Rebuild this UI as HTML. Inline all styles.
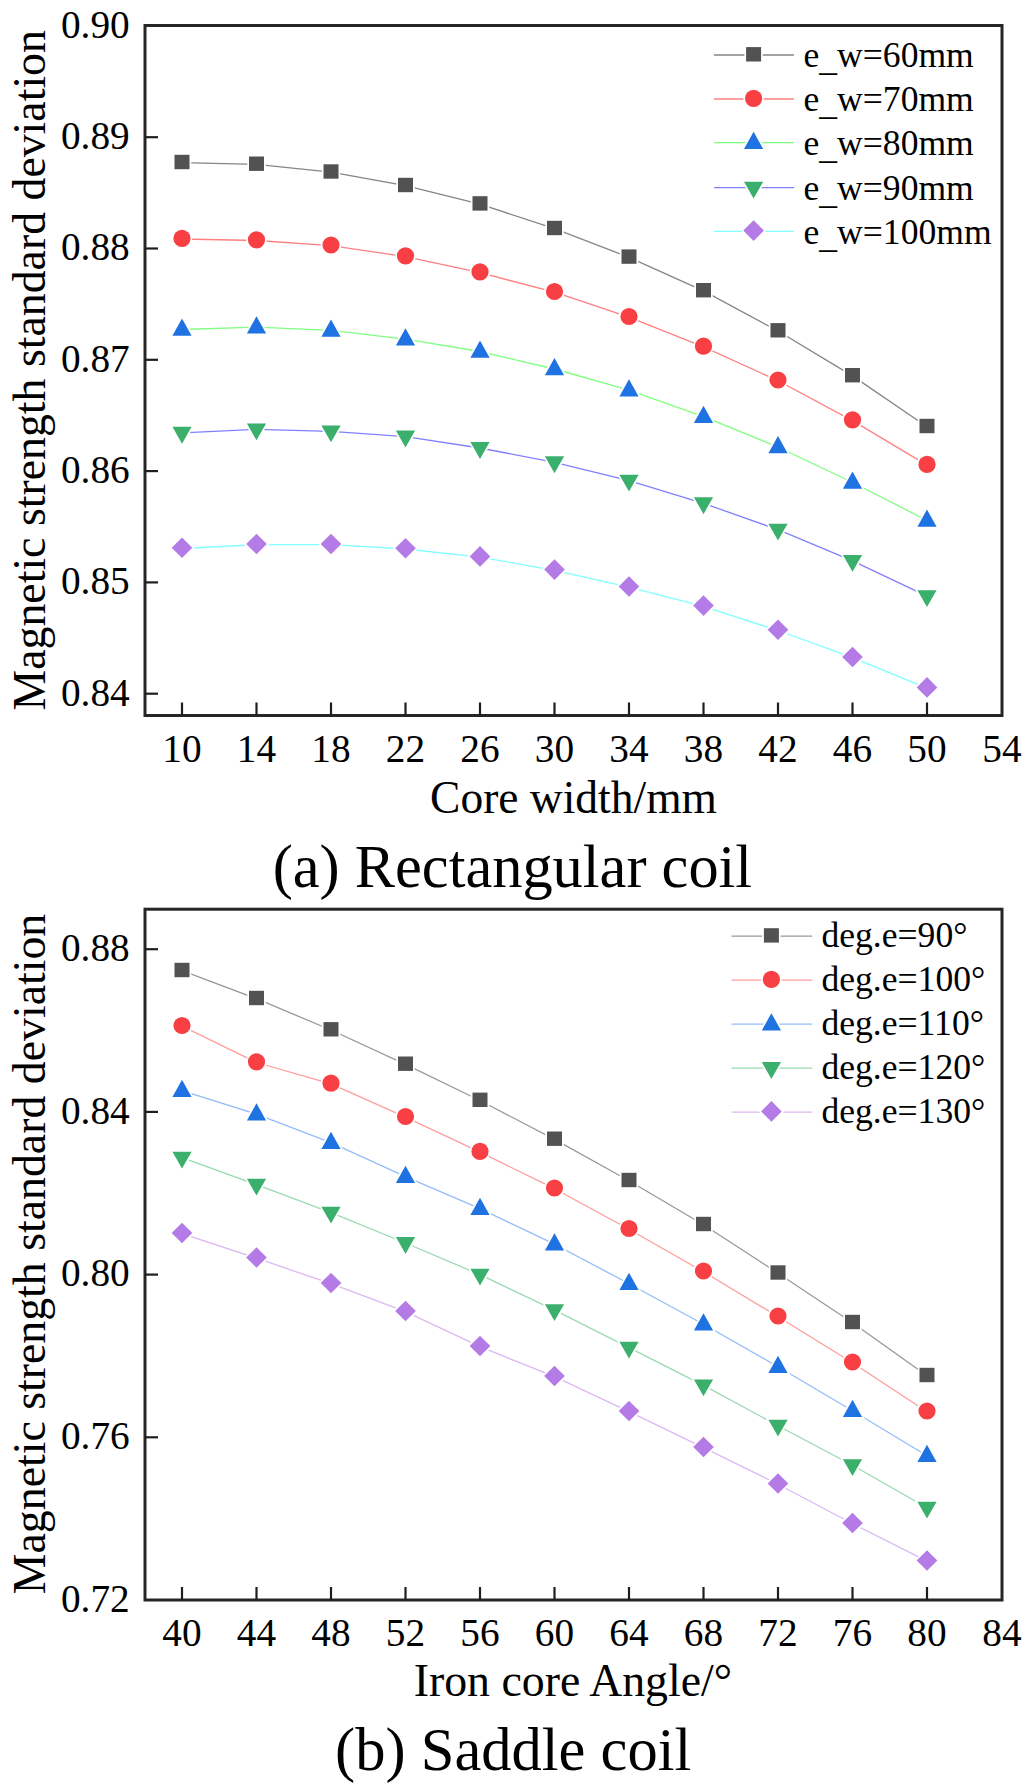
<!DOCTYPE html>
<html><head><meta charset="utf-8"><style>
html,body{margin:0;padding:0;background:#fff;}
svg{display:block;}
text{font-family:"Liberation Serif", serif;fill:#000;}
</style></head><body>
<svg width="1025" height="1784" viewBox="0 0 1025 1784">
<rect width="1025" height="1784" fill="#fff"/>
<rect x="145" y="25.5" width="857" height="690.0" fill="none" stroke="#262626" stroke-width="3"/>
<line x1="145" y1="137.2" x2="158" y2="137.2" stroke="#1e1e1e" stroke-width="2.2"/>
<line x1="145" y1="248.5" x2="158" y2="248.5" stroke="#1e1e1e" stroke-width="2.2"/>
<line x1="145" y1="359.8" x2="158" y2="359.8" stroke="#1e1e1e" stroke-width="2.2"/>
<line x1="145" y1="471.1" x2="158" y2="471.1" stroke="#1e1e1e" stroke-width="2.2"/>
<line x1="145" y1="582.4" x2="158" y2="582.4" stroke="#1e1e1e" stroke-width="2.2"/>
<line x1="145" y1="693.7" x2="158" y2="693.7" stroke="#1e1e1e" stroke-width="2.2"/>
<line x1="182.0" y1="715.5" x2="182.0" y2="702.5" stroke="#1e1e1e" stroke-width="2.2"/>
<line x1="256.5" y1="715.5" x2="256.5" y2="702.5" stroke="#1e1e1e" stroke-width="2.2"/>
<line x1="331.0" y1="715.5" x2="331.0" y2="702.5" stroke="#1e1e1e" stroke-width="2.2"/>
<line x1="405.5" y1="715.5" x2="405.5" y2="702.5" stroke="#1e1e1e" stroke-width="2.2"/>
<line x1="480.0" y1="715.5" x2="480.0" y2="702.5" stroke="#1e1e1e" stroke-width="2.2"/>
<line x1="554.5" y1="715.5" x2="554.5" y2="702.5" stroke="#1e1e1e" stroke-width="2.2"/>
<line x1="629.0" y1="715.5" x2="629.0" y2="702.5" stroke="#1e1e1e" stroke-width="2.2"/>
<line x1="703.5" y1="715.5" x2="703.5" y2="702.5" stroke="#1e1e1e" stroke-width="2.2"/>
<line x1="778.0" y1="715.5" x2="778.0" y2="702.5" stroke="#1e1e1e" stroke-width="2.2"/>
<line x1="852.5" y1="715.5" x2="852.5" y2="702.5" stroke="#1e1e1e" stroke-width="2.2"/>
<line x1="927.0" y1="715.5" x2="927.0" y2="702.5" stroke="#1e1e1e" stroke-width="2.2"/>
<polyline points="182.00,162.70 256.50,164.40 331.00,172.20 405.50,185.70 480.00,204.10 554.50,228.70 629.00,257.30 703.50,290.90 778.00,331.00 852.50,375.90 927.00,426.70" fill="none" stroke="#858585" stroke-width="1.3" stroke-linejoin="round"/>
<polyline points="182.00,239.00 256.50,240.50 331.00,245.70 405.50,256.60 480.00,272.60 554.50,292.20 629.00,317.20 703.50,346.90 778.00,380.70 852.50,420.60 927.00,465.10" fill="none" stroke="#ff8080" stroke-width="1.3" stroke-linejoin="round"/>
<polyline points="182.00,329.50 256.50,327.20 331.00,330.40 405.50,339.20 480.00,351.50 554.50,369.00 629.00,390.10 703.50,416.70 778.00,447.00 852.50,482.50 927.00,520.50" fill="none" stroke="#80ff80" stroke-width="1.3" stroke-linejoin="round"/>
<polyline points="182.00,432.80 256.50,429.40 331.00,431.40 405.50,436.60 480.00,448.00 554.50,462.30 629.00,480.70 703.50,503.30 778.00,529.70 852.50,560.90 927.00,596.20" fill="none" stroke="#8080ff" stroke-width="1.3" stroke-linejoin="round"/>
<polyline points="182.00,548.50 256.50,544.70 331.00,544.70 405.50,549.00 480.00,557.10 554.50,570.30 629.00,587.20 703.50,606.30 778.00,630.50 852.50,657.70 927.00,688.10" fill="none" stroke="#80ffff" stroke-width="1.3" stroke-linejoin="round"/>
<rect x="174.50" y="154.80" width="15.00" height="14.40" fill="#525252" stroke="#fff" stroke-width="3.4" paint-order="stroke"/>
<rect x="249.00" y="156.50" width="15.00" height="14.40" fill="#525252" stroke="#fff" stroke-width="3.4" paint-order="stroke"/>
<rect x="323.50" y="164.30" width="15.00" height="14.40" fill="#525252" stroke="#fff" stroke-width="3.4" paint-order="stroke"/>
<rect x="398.00" y="177.80" width="15.00" height="14.40" fill="#525252" stroke="#fff" stroke-width="3.4" paint-order="stroke"/>
<rect x="472.50" y="196.20" width="15.00" height="14.40" fill="#525252" stroke="#fff" stroke-width="3.4" paint-order="stroke"/>
<rect x="547.00" y="220.80" width="15.00" height="14.40" fill="#525252" stroke="#fff" stroke-width="3.4" paint-order="stroke"/>
<rect x="621.50" y="249.40" width="15.00" height="14.40" fill="#525252" stroke="#fff" stroke-width="3.4" paint-order="stroke"/>
<rect x="696.00" y="283.00" width="15.00" height="14.40" fill="#525252" stroke="#fff" stroke-width="3.4" paint-order="stroke"/>
<rect x="770.50" y="323.10" width="15.00" height="14.40" fill="#525252" stroke="#fff" stroke-width="3.4" paint-order="stroke"/>
<rect x="845.00" y="368.00" width="15.00" height="14.40" fill="#525252" stroke="#fff" stroke-width="3.4" paint-order="stroke"/>
<rect x="919.50" y="418.80" width="15.00" height="14.40" fill="#525252" stroke="#fff" stroke-width="3.4" paint-order="stroke"/>
<circle cx="182.00" cy="238.30" r="8.60" fill="#f84044" stroke="#fff" stroke-width="3.4" paint-order="stroke"/>
<circle cx="256.50" cy="239.80" r="8.60" fill="#f84044" stroke="#fff" stroke-width="3.4" paint-order="stroke"/>
<circle cx="331.00" cy="245.00" r="8.60" fill="#f84044" stroke="#fff" stroke-width="3.4" paint-order="stroke"/>
<circle cx="405.50" cy="255.90" r="8.60" fill="#f84044" stroke="#fff" stroke-width="3.4" paint-order="stroke"/>
<circle cx="480.00" cy="271.90" r="8.60" fill="#f84044" stroke="#fff" stroke-width="3.4" paint-order="stroke"/>
<circle cx="554.50" cy="291.50" r="8.60" fill="#f84044" stroke="#fff" stroke-width="3.4" paint-order="stroke"/>
<circle cx="629.00" cy="316.50" r="8.60" fill="#f84044" stroke="#fff" stroke-width="3.4" paint-order="stroke"/>
<circle cx="703.50" cy="346.20" r="8.60" fill="#f84044" stroke="#fff" stroke-width="3.4" paint-order="stroke"/>
<circle cx="778.00" cy="380.00" r="8.60" fill="#f84044" stroke="#fff" stroke-width="3.4" paint-order="stroke"/>
<circle cx="852.50" cy="419.90" r="8.60" fill="#f84044" stroke="#fff" stroke-width="3.4" paint-order="stroke"/>
<circle cx="927.00" cy="464.40" r="8.60" fill="#f84044" stroke="#fff" stroke-width="3.4" paint-order="stroke"/>
<path d="M182.00 318.60L191.60 335.80L172.40 335.80Z" fill="#1e72e2" stroke="#fff" stroke-width="3.4" paint-order="stroke"/>
<path d="M256.50 316.30L266.10 333.50L246.90 333.50Z" fill="#1e72e2" stroke="#fff" stroke-width="3.4" paint-order="stroke"/>
<path d="M331.00 319.50L340.60 336.70L321.40 336.70Z" fill="#1e72e2" stroke="#fff" stroke-width="3.4" paint-order="stroke"/>
<path d="M405.50 328.30L415.10 345.50L395.90 345.50Z" fill="#1e72e2" stroke="#fff" stroke-width="3.4" paint-order="stroke"/>
<path d="M480.00 340.60L489.60 357.80L470.40 357.80Z" fill="#1e72e2" stroke="#fff" stroke-width="3.4" paint-order="stroke"/>
<path d="M554.50 358.10L564.10 375.30L544.90 375.30Z" fill="#1e72e2" stroke="#fff" stroke-width="3.4" paint-order="stroke"/>
<path d="M629.00 379.20L638.60 396.40L619.40 396.40Z" fill="#1e72e2" stroke="#fff" stroke-width="3.4" paint-order="stroke"/>
<path d="M703.50 405.80L713.10 423.00L693.90 423.00Z" fill="#1e72e2" stroke="#fff" stroke-width="3.4" paint-order="stroke"/>
<path d="M778.00 436.10L787.60 453.30L768.40 453.30Z" fill="#1e72e2" stroke="#fff" stroke-width="3.4" paint-order="stroke"/>
<path d="M852.50 471.60L862.10 488.80L842.90 488.80Z" fill="#1e72e2" stroke="#fff" stroke-width="3.4" paint-order="stroke"/>
<path d="M927.00 509.60L936.60 526.80L917.40 526.80Z" fill="#1e72e2" stroke="#fff" stroke-width="3.4" paint-order="stroke"/>
<path d="M182.00 443.70L191.60 426.80L172.40 426.80Z" fill="#3ab06c" stroke="#fff" stroke-width="3.4" paint-order="stroke"/>
<path d="M256.50 440.30L266.10 423.40L246.90 423.40Z" fill="#3ab06c" stroke="#fff" stroke-width="3.4" paint-order="stroke"/>
<path d="M331.00 442.30L340.60 425.40L321.40 425.40Z" fill="#3ab06c" stroke="#fff" stroke-width="3.4" paint-order="stroke"/>
<path d="M405.50 447.50L415.10 430.60L395.90 430.60Z" fill="#3ab06c" stroke="#fff" stroke-width="3.4" paint-order="stroke"/>
<path d="M480.00 458.90L489.60 442.00L470.40 442.00Z" fill="#3ab06c" stroke="#fff" stroke-width="3.4" paint-order="stroke"/>
<path d="M554.50 473.20L564.10 456.30L544.90 456.30Z" fill="#3ab06c" stroke="#fff" stroke-width="3.4" paint-order="stroke"/>
<path d="M629.00 491.60L638.60 474.70L619.40 474.70Z" fill="#3ab06c" stroke="#fff" stroke-width="3.4" paint-order="stroke"/>
<path d="M703.50 514.20L713.10 497.30L693.90 497.30Z" fill="#3ab06c" stroke="#fff" stroke-width="3.4" paint-order="stroke"/>
<path d="M778.00 540.60L787.60 523.70L768.40 523.70Z" fill="#3ab06c" stroke="#fff" stroke-width="3.4" paint-order="stroke"/>
<path d="M852.50 571.80L862.10 554.90L842.90 554.90Z" fill="#3ab06c" stroke="#fff" stroke-width="3.4" paint-order="stroke"/>
<path d="M927.00 607.10L936.60 590.20L917.40 590.20Z" fill="#3ab06c" stroke="#fff" stroke-width="3.4" paint-order="stroke"/>
<path d="M182.00 537.50L192.30 547.80L182.00 558.10L171.70 547.80Z" fill="#b47ae6" stroke="#fff" stroke-width="3.4" paint-order="stroke"/>
<path d="M256.50 533.70L266.80 544.00L256.50 554.30L246.20 544.00Z" fill="#b47ae6" stroke="#fff" stroke-width="3.4" paint-order="stroke"/>
<path d="M331.00 533.70L341.30 544.00L331.00 554.30L320.70 544.00Z" fill="#b47ae6" stroke="#fff" stroke-width="3.4" paint-order="stroke"/>
<path d="M405.50 538.00L415.80 548.30L405.50 558.60L395.20 548.30Z" fill="#b47ae6" stroke="#fff" stroke-width="3.4" paint-order="stroke"/>
<path d="M480.00 546.10L490.30 556.40L480.00 566.70L469.70 556.40Z" fill="#b47ae6" stroke="#fff" stroke-width="3.4" paint-order="stroke"/>
<path d="M554.50 559.30L564.80 569.60L554.50 579.90L544.20 569.60Z" fill="#b47ae6" stroke="#fff" stroke-width="3.4" paint-order="stroke"/>
<path d="M629.00 576.20L639.30 586.50L629.00 596.80L618.70 586.50Z" fill="#b47ae6" stroke="#fff" stroke-width="3.4" paint-order="stroke"/>
<path d="M703.50 595.30L713.80 605.60L703.50 615.90L693.20 605.60Z" fill="#b47ae6" stroke="#fff" stroke-width="3.4" paint-order="stroke"/>
<path d="M778.00 619.50L788.30 629.80L778.00 640.10L767.70 629.80Z" fill="#b47ae6" stroke="#fff" stroke-width="3.4" paint-order="stroke"/>
<path d="M852.50 646.70L862.80 657.00L852.50 667.30L842.20 657.00Z" fill="#b47ae6" stroke="#fff" stroke-width="3.4" paint-order="stroke"/>
<path d="M927.00 677.10L937.30 687.40L927.00 697.70L916.70 687.40Z" fill="#b47ae6" stroke="#fff" stroke-width="3.4" paint-order="stroke"/>
<line x1="714" y1="55.0" x2="794" y2="55.0" stroke="#858585" stroke-width="1.3"/>
<rect x="746.10" y="47.10" width="15.00" height="14.40" fill="#525252" stroke="#fff" stroke-width="3.4" paint-order="stroke"/>
<line x1="714" y1="99.0" x2="794" y2="99.0" stroke="#ff8080" stroke-width="1.3"/>
<circle cx="753.60" cy="98.30" r="8.60" fill="#f84044" stroke="#fff" stroke-width="3.4" paint-order="stroke"/>
<line x1="714" y1="142.7" x2="794" y2="142.7" stroke="#80ff80" stroke-width="1.3"/>
<path d="M753.60 131.80L763.20 149.00L744.00 149.00Z" fill="#1e72e2" stroke="#fff" stroke-width="3.4" paint-order="stroke"/>
<line x1="714" y1="187.7" x2="794" y2="187.7" stroke="#8080ff" stroke-width="1.3"/>
<path d="M753.60 198.60L763.20 181.70L744.00 181.70Z" fill="#3ab06c" stroke="#fff" stroke-width="3.4" paint-order="stroke"/>
<line x1="714" y1="231.29999999999998" x2="794" y2="231.29999999999998" stroke="#80ffff" stroke-width="1.3"/>
<path d="M753.60 220.30L763.90 230.60L753.60 240.90L743.30 230.60Z" fill="#b47ae6" stroke="#fff" stroke-width="3.4" paint-order="stroke"/>
<rect x="145" y="909.2" width="857" height="690.8" fill="none" stroke="#262626" stroke-width="3"/>
<line x1="145" y1="949.2" x2="158" y2="949.2" stroke="#1e1e1e" stroke-width="2.2"/>
<line x1="145" y1="1111.9" x2="158" y2="1111.9" stroke="#1e1e1e" stroke-width="2.2"/>
<line x1="145" y1="1274.6" x2="158" y2="1274.6" stroke="#1e1e1e" stroke-width="2.2"/>
<line x1="145" y1="1437.3" x2="158" y2="1437.3" stroke="#1e1e1e" stroke-width="2.2"/>
<line x1="182.0" y1="1600" x2="182.0" y2="1587" stroke="#1e1e1e" stroke-width="2.2"/>
<line x1="256.5" y1="1600" x2="256.5" y2="1587" stroke="#1e1e1e" stroke-width="2.2"/>
<line x1="331.0" y1="1600" x2="331.0" y2="1587" stroke="#1e1e1e" stroke-width="2.2"/>
<line x1="405.5" y1="1600" x2="405.5" y2="1587" stroke="#1e1e1e" stroke-width="2.2"/>
<line x1="480.0" y1="1600" x2="480.0" y2="1587" stroke="#1e1e1e" stroke-width="2.2"/>
<line x1="554.5" y1="1600" x2="554.5" y2="1587" stroke="#1e1e1e" stroke-width="2.2"/>
<line x1="629.0" y1="1600" x2="629.0" y2="1587" stroke="#1e1e1e" stroke-width="2.2"/>
<line x1="703.5" y1="1600" x2="703.5" y2="1587" stroke="#1e1e1e" stroke-width="2.2"/>
<line x1="778.0" y1="1600" x2="778.0" y2="1587" stroke="#1e1e1e" stroke-width="2.2"/>
<line x1="852.5" y1="1600" x2="852.5" y2="1587" stroke="#1e1e1e" stroke-width="2.2"/>
<line x1="927.0" y1="1600" x2="927.0" y2="1587" stroke="#1e1e1e" stroke-width="2.2"/>
<polyline points="182.00,970.70 256.50,998.70 331.00,1030.00 405.50,1064.40 480.00,1100.50 554.50,1139.40 629.00,1180.70 703.50,1224.70 778.00,1273.20 852.50,1322.70 927.00,1375.70" fill="none" stroke="#999999" stroke-width="1.3" stroke-linejoin="round"/>
<polyline points="182.00,1026.20 256.50,1062.50 331.00,1083.90 405.50,1117.20 480.00,1152.10 554.50,1188.70 629.00,1229.20 703.50,1271.70 778.00,1316.70 852.50,1362.70 927.00,1411.70" fill="none" stroke="#ff9c9c" stroke-width="1.3" stroke-linejoin="round"/>
<polyline points="182.00,1090.70 256.50,1114.20 331.00,1142.70 405.50,1176.70 480.00,1208.70 554.50,1244.20 629.00,1283.70 703.50,1324.20 778.00,1366.70 852.50,1410.70 927.00,1455.70" fill="none" stroke="#94bcf8" stroke-width="1.3" stroke-linejoin="round"/>
<polyline points="182.00,1157.70 256.50,1184.70 331.00,1212.70 405.50,1243.00 480.00,1274.70 554.50,1310.20 629.00,1347.70 703.50,1385.40 778.00,1425.70 852.50,1465.20 927.00,1507.70" fill="none" stroke="#98dab0" stroke-width="1.3" stroke-linejoin="round"/>
<polyline points="182.00,1233.70 256.50,1258.20 331.00,1283.70 405.50,1311.70 480.00,1346.70 554.50,1376.70 629.00,1411.70 703.50,1447.70 778.00,1484.20 852.50,1523.70 927.00,1561.20" fill="none" stroke="#dcb8f3" stroke-width="1.3" stroke-linejoin="round"/>
<rect x="174.50" y="962.80" width="15.00" height="14.40" fill="#525252" stroke="#fff" stroke-width="3.4" paint-order="stroke"/>
<rect x="249.00" y="990.80" width="15.00" height="14.40" fill="#525252" stroke="#fff" stroke-width="3.4" paint-order="stroke"/>
<rect x="323.50" y="1022.10" width="15.00" height="14.40" fill="#525252" stroke="#fff" stroke-width="3.4" paint-order="stroke"/>
<rect x="398.00" y="1056.50" width="15.00" height="14.40" fill="#525252" stroke="#fff" stroke-width="3.4" paint-order="stroke"/>
<rect x="472.50" y="1092.60" width="15.00" height="14.40" fill="#525252" stroke="#fff" stroke-width="3.4" paint-order="stroke"/>
<rect x="547.00" y="1131.50" width="15.00" height="14.40" fill="#525252" stroke="#fff" stroke-width="3.4" paint-order="stroke"/>
<rect x="621.50" y="1172.80" width="15.00" height="14.40" fill="#525252" stroke="#fff" stroke-width="3.4" paint-order="stroke"/>
<rect x="696.00" y="1216.80" width="15.00" height="14.40" fill="#525252" stroke="#fff" stroke-width="3.4" paint-order="stroke"/>
<rect x="770.50" y="1265.30" width="15.00" height="14.40" fill="#525252" stroke="#fff" stroke-width="3.4" paint-order="stroke"/>
<rect x="845.00" y="1314.80" width="15.00" height="14.40" fill="#525252" stroke="#fff" stroke-width="3.4" paint-order="stroke"/>
<rect x="919.50" y="1367.80" width="15.00" height="14.40" fill="#525252" stroke="#fff" stroke-width="3.4" paint-order="stroke"/>
<circle cx="182.00" cy="1025.50" r="8.60" fill="#f84044" stroke="#fff" stroke-width="3.4" paint-order="stroke"/>
<circle cx="256.50" cy="1061.80" r="8.60" fill="#f84044" stroke="#fff" stroke-width="3.4" paint-order="stroke"/>
<circle cx="331.00" cy="1083.20" r="8.60" fill="#f84044" stroke="#fff" stroke-width="3.4" paint-order="stroke"/>
<circle cx="405.50" cy="1116.50" r="8.60" fill="#f84044" stroke="#fff" stroke-width="3.4" paint-order="stroke"/>
<circle cx="480.00" cy="1151.40" r="8.60" fill="#f84044" stroke="#fff" stroke-width="3.4" paint-order="stroke"/>
<circle cx="554.50" cy="1188.00" r="8.60" fill="#f84044" stroke="#fff" stroke-width="3.4" paint-order="stroke"/>
<circle cx="629.00" cy="1228.50" r="8.60" fill="#f84044" stroke="#fff" stroke-width="3.4" paint-order="stroke"/>
<circle cx="703.50" cy="1271.00" r="8.60" fill="#f84044" stroke="#fff" stroke-width="3.4" paint-order="stroke"/>
<circle cx="778.00" cy="1316.00" r="8.60" fill="#f84044" stroke="#fff" stroke-width="3.4" paint-order="stroke"/>
<circle cx="852.50" cy="1362.00" r="8.60" fill="#f84044" stroke="#fff" stroke-width="3.4" paint-order="stroke"/>
<circle cx="927.00" cy="1411.00" r="8.60" fill="#f84044" stroke="#fff" stroke-width="3.4" paint-order="stroke"/>
<path d="M182.00 1079.80L191.60 1097.00L172.40 1097.00Z" fill="#1e72e2" stroke="#fff" stroke-width="3.4" paint-order="stroke"/>
<path d="M256.50 1103.30L266.10 1120.50L246.90 1120.50Z" fill="#1e72e2" stroke="#fff" stroke-width="3.4" paint-order="stroke"/>
<path d="M331.00 1131.80L340.60 1149.00L321.40 1149.00Z" fill="#1e72e2" stroke="#fff" stroke-width="3.4" paint-order="stroke"/>
<path d="M405.50 1165.80L415.10 1183.00L395.90 1183.00Z" fill="#1e72e2" stroke="#fff" stroke-width="3.4" paint-order="stroke"/>
<path d="M480.00 1197.80L489.60 1215.00L470.40 1215.00Z" fill="#1e72e2" stroke="#fff" stroke-width="3.4" paint-order="stroke"/>
<path d="M554.50 1233.30L564.10 1250.50L544.90 1250.50Z" fill="#1e72e2" stroke="#fff" stroke-width="3.4" paint-order="stroke"/>
<path d="M629.00 1272.80L638.60 1290.00L619.40 1290.00Z" fill="#1e72e2" stroke="#fff" stroke-width="3.4" paint-order="stroke"/>
<path d="M703.50 1313.30L713.10 1330.50L693.90 1330.50Z" fill="#1e72e2" stroke="#fff" stroke-width="3.4" paint-order="stroke"/>
<path d="M778.00 1355.80L787.60 1373.00L768.40 1373.00Z" fill="#1e72e2" stroke="#fff" stroke-width="3.4" paint-order="stroke"/>
<path d="M852.50 1399.80L862.10 1417.00L842.90 1417.00Z" fill="#1e72e2" stroke="#fff" stroke-width="3.4" paint-order="stroke"/>
<path d="M927.00 1444.80L936.60 1462.00L917.40 1462.00Z" fill="#1e72e2" stroke="#fff" stroke-width="3.4" paint-order="stroke"/>
<path d="M182.00 1168.60L191.60 1151.70L172.40 1151.70Z" fill="#3ab06c" stroke="#fff" stroke-width="3.4" paint-order="stroke"/>
<path d="M256.50 1195.60L266.10 1178.70L246.90 1178.70Z" fill="#3ab06c" stroke="#fff" stroke-width="3.4" paint-order="stroke"/>
<path d="M331.00 1223.60L340.60 1206.70L321.40 1206.70Z" fill="#3ab06c" stroke="#fff" stroke-width="3.4" paint-order="stroke"/>
<path d="M405.50 1253.90L415.10 1237.00L395.90 1237.00Z" fill="#3ab06c" stroke="#fff" stroke-width="3.4" paint-order="stroke"/>
<path d="M480.00 1285.60L489.60 1268.70L470.40 1268.70Z" fill="#3ab06c" stroke="#fff" stroke-width="3.4" paint-order="stroke"/>
<path d="M554.50 1321.10L564.10 1304.20L544.90 1304.20Z" fill="#3ab06c" stroke="#fff" stroke-width="3.4" paint-order="stroke"/>
<path d="M629.00 1358.60L638.60 1341.70L619.40 1341.70Z" fill="#3ab06c" stroke="#fff" stroke-width="3.4" paint-order="stroke"/>
<path d="M703.50 1396.30L713.10 1379.40L693.90 1379.40Z" fill="#3ab06c" stroke="#fff" stroke-width="3.4" paint-order="stroke"/>
<path d="M778.00 1436.60L787.60 1419.70L768.40 1419.70Z" fill="#3ab06c" stroke="#fff" stroke-width="3.4" paint-order="stroke"/>
<path d="M852.50 1476.10L862.10 1459.20L842.90 1459.20Z" fill="#3ab06c" stroke="#fff" stroke-width="3.4" paint-order="stroke"/>
<path d="M927.00 1518.60L936.60 1501.70L917.40 1501.70Z" fill="#3ab06c" stroke="#fff" stroke-width="3.4" paint-order="stroke"/>
<path d="M182.00 1222.70L192.30 1233.00L182.00 1243.30L171.70 1233.00Z" fill="#b47ae6" stroke="#fff" stroke-width="3.4" paint-order="stroke"/>
<path d="M256.50 1247.20L266.80 1257.50L256.50 1267.80L246.20 1257.50Z" fill="#b47ae6" stroke="#fff" stroke-width="3.4" paint-order="stroke"/>
<path d="M331.00 1272.70L341.30 1283.00L331.00 1293.30L320.70 1283.00Z" fill="#b47ae6" stroke="#fff" stroke-width="3.4" paint-order="stroke"/>
<path d="M405.50 1300.70L415.80 1311.00L405.50 1321.30L395.20 1311.00Z" fill="#b47ae6" stroke="#fff" stroke-width="3.4" paint-order="stroke"/>
<path d="M480.00 1335.70L490.30 1346.00L480.00 1356.30L469.70 1346.00Z" fill="#b47ae6" stroke="#fff" stroke-width="3.4" paint-order="stroke"/>
<path d="M554.50 1365.70L564.80 1376.00L554.50 1386.30L544.20 1376.00Z" fill="#b47ae6" stroke="#fff" stroke-width="3.4" paint-order="stroke"/>
<path d="M629.00 1400.70L639.30 1411.00L629.00 1421.30L618.70 1411.00Z" fill="#b47ae6" stroke="#fff" stroke-width="3.4" paint-order="stroke"/>
<path d="M703.50 1436.70L713.80 1447.00L703.50 1457.30L693.20 1447.00Z" fill="#b47ae6" stroke="#fff" stroke-width="3.4" paint-order="stroke"/>
<path d="M778.00 1473.20L788.30 1483.50L778.00 1493.80L767.70 1483.50Z" fill="#b47ae6" stroke="#fff" stroke-width="3.4" paint-order="stroke"/>
<path d="M852.50 1512.70L862.80 1523.00L852.50 1533.30L842.20 1523.00Z" fill="#b47ae6" stroke="#fff" stroke-width="3.4" paint-order="stroke"/>
<path d="M927.00 1550.20L937.30 1560.50L927.00 1570.80L916.70 1560.50Z" fill="#b47ae6" stroke="#fff" stroke-width="3.4" paint-order="stroke"/>
<line x1="731.5" y1="936.1" x2="812.3" y2="936.1" stroke="#999999" stroke-width="1.3"/>
<rect x="763.90" y="928.20" width="15.00" height="14.40" fill="#525252" stroke="#fff" stroke-width="3.4" paint-order="stroke"/>
<line x1="731.5" y1="980.1" x2="812.3" y2="980.1" stroke="#ff9c9c" stroke-width="1.3"/>
<circle cx="771.40" cy="979.40" r="8.60" fill="#f84044" stroke="#fff" stroke-width="3.4" paint-order="stroke"/>
<line x1="731.5" y1="1024.1" x2="812.3" y2="1024.1" stroke="#94bcf8" stroke-width="1.3"/>
<path d="M771.40 1013.20L781.00 1030.40L761.80 1030.40Z" fill="#1e72e2" stroke="#fff" stroke-width="3.4" paint-order="stroke"/>
<line x1="731.5" y1="1068.1000000000001" x2="812.3" y2="1068.1000000000001" stroke="#98dab0" stroke-width="1.3"/>
<path d="M771.40 1079.00L781.00 1062.10L761.80 1062.10Z" fill="#3ab06c" stroke="#fff" stroke-width="3.4" paint-order="stroke"/>
<line x1="731.5" y1="1112.1000000000001" x2="812.3" y2="1112.1000000000001" stroke="#dcb8f3" stroke-width="1.3"/>
<path d="M771.40 1101.10L781.70 1111.40L771.40 1121.70L761.10 1111.40Z" fill="#b47ae6" stroke="#fff" stroke-width="3.4" paint-order="stroke"/>

<text x="129.70" y="37.70" font-size="39.3" text-anchor="end" >0.90</text>
<text x="129.70" y="149.00" font-size="39.3" text-anchor="end" >0.89</text>
<text x="129.70" y="260.30" font-size="39.3" text-anchor="end" >0.88</text>
<text x="129.70" y="371.60" font-size="39.3" text-anchor="end" >0.87</text>
<text x="129.70" y="482.90" font-size="39.3" text-anchor="end" >0.86</text>
<text x="129.70" y="594.20" font-size="39.3" text-anchor="end" >0.85</text>
<text x="129.70" y="705.50" font-size="39.3" text-anchor="end" >0.84</text>
<text x="182.00" y="761.50" font-size="39.3" text-anchor="middle" >10</text>
<text x="256.50" y="761.50" font-size="39.3" text-anchor="middle" >14</text>
<text x="331.00" y="761.50" font-size="39.3" text-anchor="middle" >18</text>
<text x="405.50" y="761.50" font-size="39.3" text-anchor="middle" >22</text>
<text x="480.00" y="761.50" font-size="39.3" text-anchor="middle" >26</text>
<text x="554.50" y="761.50" font-size="39.3" text-anchor="middle" >30</text>
<text x="629.00" y="761.50" font-size="39.3" text-anchor="middle" >34</text>
<text x="703.50" y="761.50" font-size="39.3" text-anchor="middle" >38</text>
<text x="778.00" y="761.50" font-size="39.3" text-anchor="middle" >42</text>
<text x="852.50" y="761.50" font-size="39.3" text-anchor="middle" >46</text>
<text x="927.00" y="761.50" font-size="39.3" text-anchor="middle" >50</text>
<text x="1002.00" y="761.50" font-size="39.3" text-anchor="middle" >54</text>
<text x="573.50" y="812.80" font-size="45.5" text-anchor="middle" >Core width/mm</text>
<text x="512.40" y="886.80" font-size="60.4" text-anchor="middle" >(a) Rectangular coil</text>
<text x="45.40" y="370.30" font-size="45.8" text-anchor="middle" transform="rotate(-90 45.4 370.3)">Magnetic strength standard deviation</text>
<text x="803.5" y="67.30" font-size="35.6">e<tspan dy="3">_</tspan><tspan dy="-3">w=60mm</tspan></text>
<text x="803.5" y="111.30" font-size="35.6">e<tspan dy="3">_</tspan><tspan dy="-3">w=70mm</tspan></text>
<text x="803.5" y="155.00" font-size="35.6">e<tspan dy="3">_</tspan><tspan dy="-3">w=80mm</tspan></text>
<text x="803.5" y="200.00" font-size="35.6">e<tspan dy="3">_</tspan><tspan dy="-3">w=90mm</tspan></text>
<text x="803.5" y="243.60" font-size="35.6">e<tspan dy="3">_</tspan><tspan dy="-3">w=100mm</tspan></text>
<text x="129.70" y="961.00" font-size="39.3" text-anchor="end" >0.88</text>
<text x="129.70" y="1123.70" font-size="39.3" text-anchor="end" >0.84</text>
<text x="129.70" y="1286.40" font-size="39.3" text-anchor="end" >0.80</text>
<text x="129.70" y="1449.10" font-size="39.3" text-anchor="end" >0.76</text>
<text x="129.70" y="1611.80" font-size="39.3" text-anchor="end" >0.72</text>
<text x="182.00" y="1645.50" font-size="39.3" text-anchor="middle" >40</text>
<text x="256.50" y="1645.50" font-size="39.3" text-anchor="middle" >44</text>
<text x="331.00" y="1645.50" font-size="39.3" text-anchor="middle" >48</text>
<text x="405.50" y="1645.50" font-size="39.3" text-anchor="middle" >52</text>
<text x="480.00" y="1645.50" font-size="39.3" text-anchor="middle" >56</text>
<text x="554.50" y="1645.50" font-size="39.3" text-anchor="middle" >60</text>
<text x="629.00" y="1645.50" font-size="39.3" text-anchor="middle" >64</text>
<text x="703.50" y="1645.50" font-size="39.3" text-anchor="middle" >68</text>
<text x="778.00" y="1645.50" font-size="39.3" text-anchor="middle" >72</text>
<text x="852.50" y="1645.50" font-size="39.3" text-anchor="middle" >76</text>
<text x="927.00" y="1645.50" font-size="39.3" text-anchor="middle" >80</text>
<text x="1002.00" y="1645.50" font-size="39.3" text-anchor="middle" >84</text>
<text x="572.90" y="1695.80" font-size="45.8" text-anchor="middle" >Iron core Angle/°</text>
<text x="513.20" y="1770.40" font-size="60.5" text-anchor="middle" >(b) Saddle coil</text>
<text x="45.40" y="1254.00" font-size="45.8" text-anchor="middle" transform="rotate(-90 45.4 1254)">Magnetic strength standard deviation</text>
<text x="821.50" y="946.60" font-size="35.6" text-anchor="start" >deg.e=90°</text>
<text x="821.50" y="990.60" font-size="35.6" text-anchor="start" >deg.e=100°</text>
<text x="821.50" y="1034.60" font-size="35.6" text-anchor="start" >deg.e=110°</text>
<text x="821.50" y="1078.60" font-size="35.6" text-anchor="start" >deg.e=120°</text>
<text x="821.50" y="1122.60" font-size="35.6" text-anchor="start" >deg.e=130°</text>
</svg></body></html>
